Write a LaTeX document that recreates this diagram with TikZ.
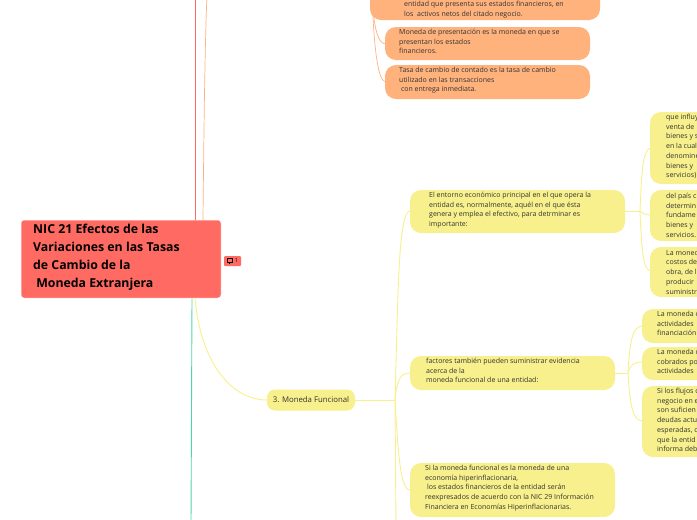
\documentclass[tikz,border=0pt]{standalone}
\usepackage{fontspec}
\setmainfont{Open Sans}
\definecolor{cred}{HTML}{FF6B62}
\definecolor{corg}{HTML}{FFB27C}
\definecolor{cyel}{HTML}{F7F08C}
\definecolor{cgrn}{HTML}{4FD6A6}
\definecolor{ltxt}{HTML}{333333}
\begin{document}
\begin{tikzpicture}[x=1pt,y=-1pt,
  ob/.style={fill=corg,rounded corners=11pt,anchor=north west,inner sep=0pt},
  yb/.style={fill=cyel,rounded corners=11pt,anchor=north west,inner sep=0pt},
  tx/.style={font=\fontsize{7}{9.7}\selectfont,text=ltxt,align=left,anchor=north west,inner sep=0pt},
  ol/.style={draw=corg,line width=0.7pt},
  yl/.style={draw=cyel,line width=0.9pt}]
\useasboundingbox (0,0) rectangle (697,520);
\begin{scope}
\clip (0,0) rectangle (697,520);
% lines from central
\draw[draw=cred,line width=0.8pt] (195,220) -- (195,-5);
\draw[ol] (203,220) .. controls (204,120) and (205,40) .. (207,-5);
\draw[draw=cgrn,line width=0.9pt] (192,298) -- (191,525);
\draw[yl] (195,298) .. controls (200,360) and (230,400) .. (267,400);
% orange branch curves at top
\draw[ol] (372,-5) .. controls (374,30) and (378,44) .. (386,44);
\draw[ol] (372,-5) .. controls (374,50) and (378,82) .. (386,82);
% orange boxes
\path[ob] (370,-22) rectangle (600,20);
\node[tx] (o1) at (404,1) {entidad que presenta sus estados financieros, en\\los\ \ activos netos del citado negocio.};
\path[ob] (385,27) rectangle (590,60);
\node[tx] (o2) at (399,29) {Moneda de presentación es la moneda en que se\\presentan los estados\\financieros.};
\path[ob] (385,65) rectangle (590,99);
\node[tx] (o3) at (399,67) {Tasa de cambio de contado es la tasa de cambio\\utilizado en las transacciones\\\ con entrega inmediata.};
% yellow trunk
\draw[yl] (355,400) -- (395,400);
\draw[yl] (395,400) .. controls (398,300) and (398,211) .. (410,211);
\draw[yl] (395,400) .. controls (397,380) and (400,373) .. (410,373);
\draw[yl] (395,400) .. controls (398,450) and (400,490) .. (410,490);
\draw[yl] (395,400) -- (396,525);
\draw[yl] (625,211) -- (640,211);
\draw[yl] (640,211) .. controls (642,160) and (644,148) .. (652,148);
\draw[yl] (640,211) .. controls (642,213) and (644,215) .. (652,215);
\draw[yl] (640,211) .. controls (642,260) and (644,271) .. (652,271);
\draw[yl] (615,373) -- (628,373);
\draw[yl] (628,373) .. controls (630,335) and (634,326) .. (643,326);
\draw[yl] (628,373) .. controls (630,365) and (634,362) .. (643,362);
\draw[yl] (628,373) .. controls (630,410) and (634,421) .. (643,421);
% central node
\path[fill=cred,draw=white,line width=0.5pt,rounded corners=3pt] (21,220) rectangle (221,298);
\node[font=\bfseries\fontsize{12.3}{18}\selectfont,align=left,anchor=north west,inner sep=0pt] (c) at (33,224) {NIC 21 Efectos de las\\Variaciones en las Tasas\\de Cambio de la\\\ Moneda Extranjera};
\path[fill=cred,rounded corners=1pt] (224,256) rectangle (241,266);
\draw[line width=0.5pt] (227,258) rectangle (232,262) (229,262) -- (229,264);
\node[font=\fontsize{5.5}{6}\selectfont,inner sep=0pt] (cm) at (236.5,261) {1};
% Moneda funcional
\node[fill=cyel,rounded corners=8pt,minimum width=88pt,minimum height=21pt,font=\fontsize{7.8}{9}\selectfont,text=ltxt] (mf) at (311,400) {3. Moneda Funcional};
% yellow boxes
\path[yb] (410,190) rectangle (625,233);
\node[tx] (a) at (429,192) {El entorno económico principal en el que opera la\\entidad es, normalmente, aquél en el que ésta\\genera y emplea el efectivo, para detrminar es\\importante:};
\path[yb] (410,356) rectangle (615,390);
\node[tx] (b) at (426,358) {factores también pueden suministrar evidencia\\acerca de la\\moneda funcional de una entidad:};
\path[yb] (410,463) rectangle (615,517);
\node[tx] (cc) at (425,465) {Si la moneda funcional es la moneda de una\\economía hiperinflacionaria,\\\ los estados financieros de la entidad serán\\reexpresados de acuerdo con la NIC 29 Información\\Financiera en Economías Hiperinflacionarias.};
\path[yb] (650,112) rectangle (720,184);
\node[tx] (a1) at (666,114) {que influy\\venta de\\bienes y s\\en la cual\\denomine\\bienes y\\servicios)};
\path[yb] (650,190) rectangle (720,241);
\node[tx] (a2) at (666,193) {del país c\\determin\\fundame\\bienes y\\servicios.};
\path[yb] (650,247) rectangle (720,297);
\node[tx] (a3) at (666,250) {La moneo\\costos de\\obra, de l\\producir\\suministr};
\path[yb] (642,309) rectangle (720,343);
\node[tx] (b1) at (657,311) {La moneda c\\actividades\\financiación};
\path[yb] (642,347) rectangle (720,380);
\node[tx] (b2) at (657,349) {La moneda c\\cobrados po\\actividades};
\path[yb] (642,386) rectangle (720,457);
\node[tx] (b3) at (657,388) {Si los flujos c\\negocio en e\\son suficien\\deudas actu\\esperadas, c\\que la entid\\informa deb};
\end{scope}
\end{tikzpicture}
\end{document}
